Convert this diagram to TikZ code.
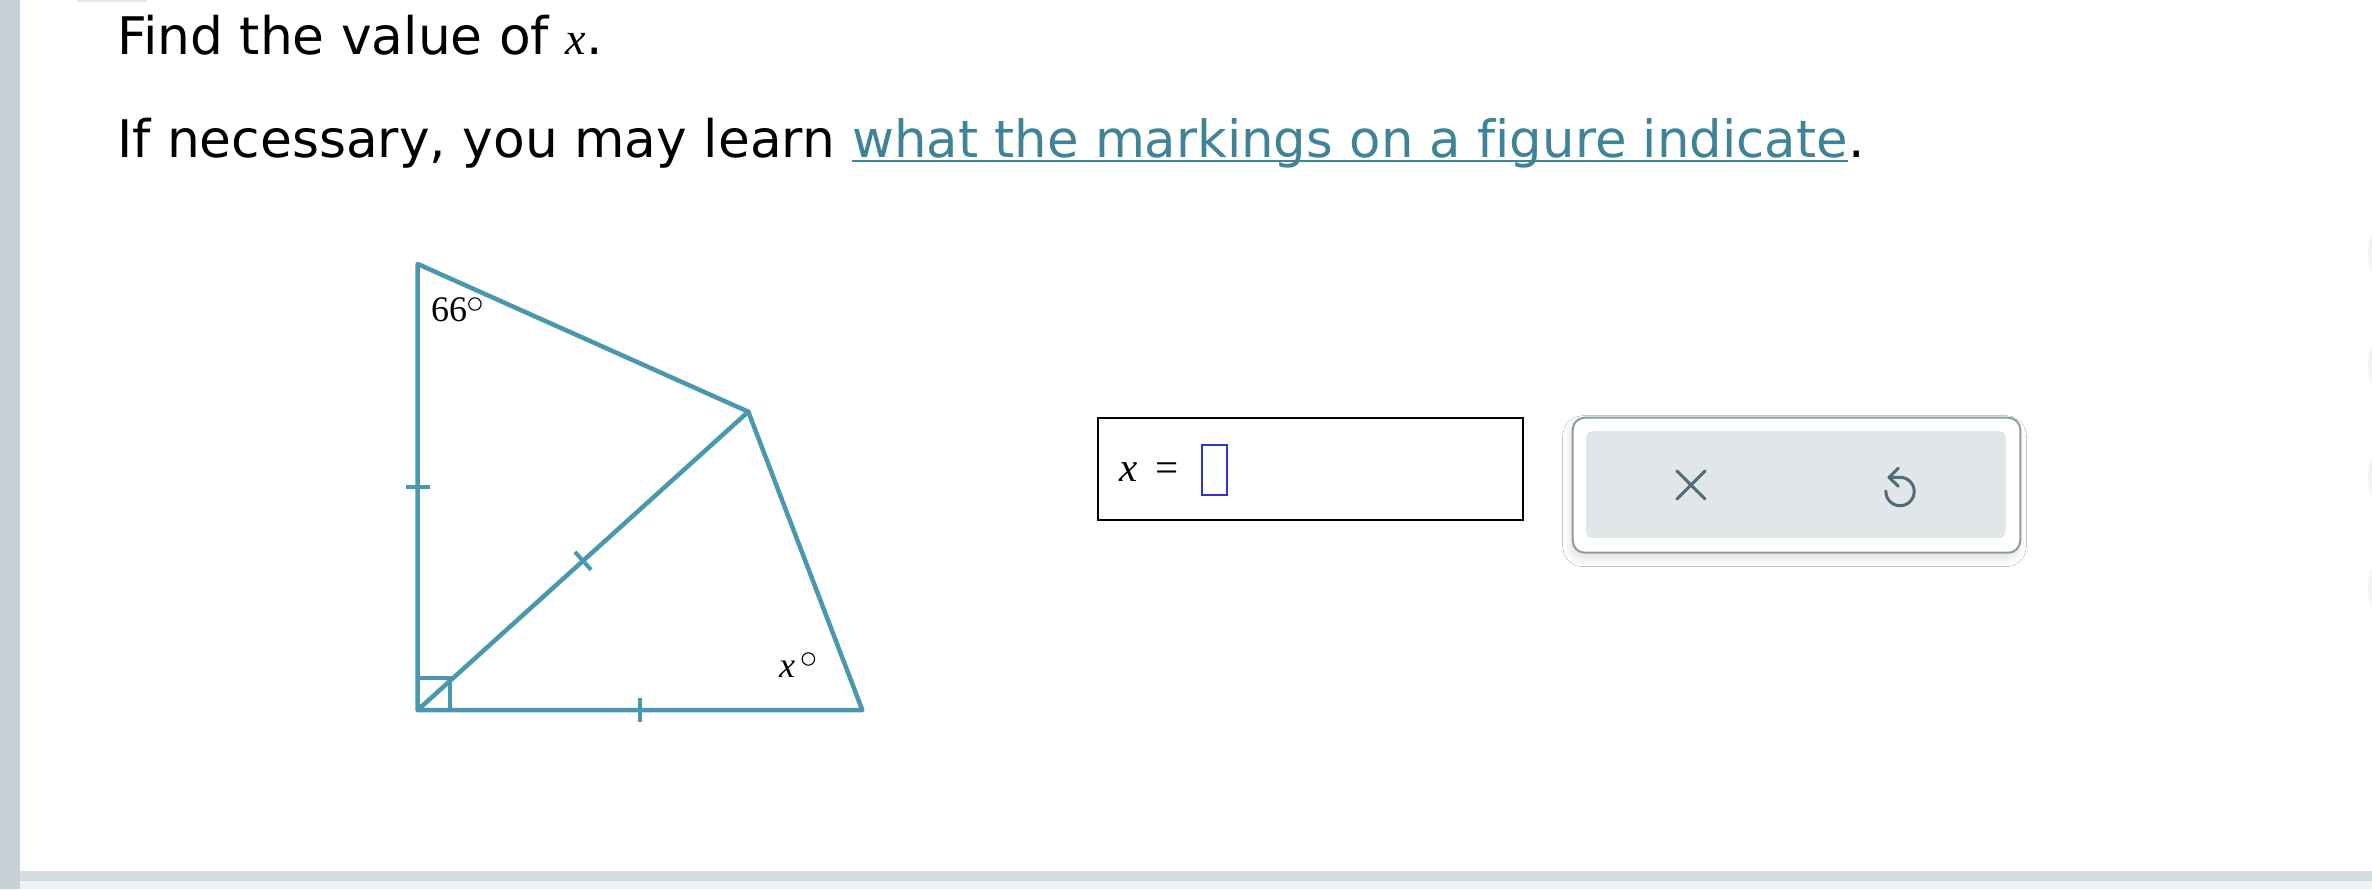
\documentclass[tikz,border=0pt]{standalone}
\usepackage{fontspec}
\setmainfont{DejaVu Sans}[Ligatures=NoCommon]
\newfontfamily\timesf{Liberation Serif}
\usetikzlibrary{calc,shadows.blur}
\definecolor{figc}{RGB}{74,152,175}
\definecolor{linkc}{RGB}{62,131,150}
\definecolor{sidebar}{RGB}{197,209,214}
\definecolor{botbar}{RGB}{212,220,223}
\definecolor{botbg}{RGB}{239,242,244}
\definecolor{panelb}{RGB}{138,156,164}
\definecolor{panelf}{RGB}{225,230,233}
\definecolor{iconc}{RGB}{80,108,120}
\definecolor{blueb}{RGB}{51,51,204}
\definecolor{tabc}{RGB}{220,235,238}
\begin{document}
\begin{tikzpicture}[x=1pt,y=-1pt,
  txt/.style={inner sep=0pt, anchor=base west, font=\fontsize{51.8}{60}\selectfont},
  figline/.style={draw=figc, line width=4.5pt, line join=round, line cap=round},
  tick/.style={draw=figc, line width=4pt},
  serlab/.style={inner sep=0pt, anchor=base west, font=\fontsize{36}{40}\selectfont\timesf},
  degring/.style={draw=black, line width=1.1pt}]
\useasboundingbox (0,0) rectangle (2372,889);
\fill[white] (0,0) rectangle (2372,889);
% faint circles at right edge
\begin{scope}
\clip (0,0) rectangle (2372,889);
\foreach \yy in {253,365,477,588} \fill[black!5] (2420,\yy) circle (52);
\end{scope}
% side and bottom bars
\fill[sidebar] (0,0) rectangle (20,889);
\fill[botbar] (20,871) rectangle (2372,881);
\fill[botbg] (20,881) rectangle (2372,889);
\fill[tabc] (77,0) rectangle (147,2);
% heading text
\node[txt] (t1) at (117,54) {Find the value of {\timesf\itshape\fontsize{46}{50}\selectfont x}.};
\node[txt] (t2) at (117,157) {If necessary, you may learn};
\node[txt, text=linkc, font=\fontsize{51.3}{60}\selectfont] (lnk) at (852,157) {what the markings on a figure indicate};
\node[txt] (dot) at (lnk.base east) {.};
\draw[linkc, line width=2pt] ($(lnk.base west)+(0,4)$) -- ($(lnk.base east)+(0,4)$);
% figure
\coordinate (A) at (417.7,264);
\coordinate (B) at (748.3,411.7);
\coordinate (C) at (862.3,710);
\coordinate (D) at (417.7,710);
\draw[figline] (A) -- (B) -- (C) -- (D) -- cycle;
\draw[figline] (D) -- (B);
\draw[tick] ($(D)+(0,-32)$) -| ($(D)+(32,0)$);
\coordinate (M1) at ($(A)!0.5!(D)$);
\coordinate (M2) at ($(D)!0.5!(B)$);
\coordinate (M3) at ($(D)!0.5!(C)$);
\draw[tick] ($(M1)!12pt!90:(D)$) -- ($(M1)!12pt!-90:(D)$);
\draw[tick] ($(M2)!12pt!90:(B)$) -- ($(M2)!12pt!-90:(B)$);
\draw[tick] ($(M3)!12pt!90:(C)$) -- ($(M3)!12pt!-90:(C)$);
\node[serlab] (a66) at (431,321) {66};
\draw[degring] ($(a66.base east)+(7.5,-17)$) circle[radius=6.2];
\node[serlab] (ax) at (779,677) {\itshape x};
\draw[degring] ($(ax.base east)+(13,-18)$) circle[radius=6.2];
% answer box
\node[draw=black, line width=2pt, minimum width=425.6pt, minimum height=102.6pt, anchor=north west, inner sep=0pt] (ans) at (1096.7,416.7) {};
\node[inner sep=0pt, anchor=base west, font=\fontsize{41}{44}\selectfont\timesf] (eq) at (1119,481) {{\itshape x}\hspace{18pt}=};
\node[draw=blueb, line width=2pt, minimum width=25pt, minimum height=50pt, anchor=north west, inner sep=0pt] (slot) at (1201,444.3) {};
% button panel
\node[draw=panelb, line width=2pt, rounded corners=12pt, fill=white, minimum width=447.6pt, minimum height=135pt, anchor=north west, inner sep=0pt,
  blur shadow={shadow blur steps=10, shadow xshift=-2pt, shadow yshift=-6pt, shadow opacity=12, shadow blur radius=8pt}] (panel) at (1571.7,416.7) {};
\node[fill=panelf, rounded corners=6pt, minimum width=419.3pt, minimum height=106.7pt, anchor=north west, inner sep=0pt] (inner) at (1586,431) {};
\draw[iconc, line width=3pt, line cap=round] (1677,471) -- (1705,499) (1705,471) -- (1677,499);
\draw[iconc, line width=3pt, line cap=round, line join=round] (1898.3,468.3) -- (1889,477.3) -- (1898.3,486.3);
\draw[iconc, line width=3pt, line cap=round] (1889,477.3) -- (1900,477.3) arc[start angle=-90, end angle=182, radius=14.2];
\end{tikzpicture}
\end{document}
